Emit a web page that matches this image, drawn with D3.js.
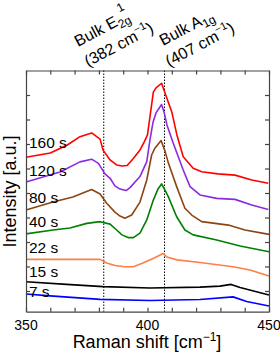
<!doctype html>
<html>
<head>
<meta charset="utf-8">
<style>
  body { margin:0; background:#fff; }
  svg { display:block; font-family:"Liberation Sans", Arial, sans-serif; }
  .frame line, .frame path { stroke:#444; stroke-width:1.2px; }
  .trace { fill:none; stroke-width:1.6px; stroke-linejoin:round; }
</style>
<script src="https://cdn.jsdelivr.net/npm/d3@7"></script>
</head>
<body>
<svg id="chart" width="280" height="353"></svg>
<script>
// data: [Raman shift, intensity (a.u., offset)]
var s160 = [[350,64.6],[360,66.3],[367,69.6],[372.2,73.0],[377,74.5],[380.5,72.0],[381.7,67.5],[384.6,63.5],[387.4,61.4],[389.5,61.0],[391.6,61.2],[394,63.9],[396.9,67.5],[398.6,70.8],[400,73.7],[402.4,91.2],[403.5,92.9],[405.8,94.8],[407.2,90.8],[410,83.1],[412.1,73.7],[414.7,64.8],[418.8,60.1],[422.3,58.7],[429,57.8],[436,57.3],[442.9,55.3],[449.7,54.0]]
var s120 = [[350,54.5],[357,56.5],[364,58.6],[372.2,62.7],[377,63.8],[379.8,62.1],[382.5,57.8],[384.6,56.0],[386.6,52.9],[388.7,51.6],[391.2,51.0],[392.8,52.2],[396.9,56.7],[399.7,62.8],[401,71.6],[402.3,79.0],[403.5,82.7],[405.8,86.1],[406.8,83.1],[408,77.8],[410.6,70.3],[414.7,59.4],[417.5,52.6],[421.6,49.2],[428.5,47.8],[436,47.4],[442.9,45.1],[449.7,43.3]]
var s80 = [[350,43.1],[361.1,46.3],[369.3,48.4],[377,51.4],[380.5,49.6],[383.2,45.8],[386.6,42.2],[388.7,40.6],[390.7,39.7],[393.5,41.0],[396.9,46.3],[399.7,55.3],[401.7,65.5],[403.1,68.4],[405.6,71.4],[407.2,67.1],[408.6,62.2],[412,52.6],[415.4,43.8],[418.2,41.0],[422.3,38.3],[427.8,37.6],[433.3,36.9],[440.1,34.9],[450,33.1]]
var s40 = [[350,33.3],[361.1,34.9],[368.1,35.7],[375,37.6],[380.5,38.3],[384.6,37.3],[387.3,34.9],[389.5,32.9],[392,31.8],[394.2,31.8],[396.9,33.6],[399.7,39.0],[402.4,47.1],[404.3,51.6],[405.8,53.7],[407.2,51.2],[408.6,48.4],[412,40.3],[415.4,34.9],[418.8,32.9],[428.5,30.8],[438.1,28.4],[450,26.0]]
var s22 = [[350,22.9],[364,22.9],[380.5,22.9],[383.2,21.4],[386.6,20.4],[390.7,19.9],[394.2,19.9],[398.1,21.4],[402.3,23.3],[404.4,24.3],[406.4,25.3],[408,23.9],[412.1,22.7],[421.6,21.6],[435.2,19.9],[442.2,18.6],[450,16.1]]
var s15 = [[350,13.8],[366.7,12.7],[381.7,11.8],[401,11.2],[421.6,11.6],[429.8,12.0],[434.4,12.7],[438.1,11.4],[450,8.4]]
var s7 = [[350,8.8],[359.9,8.0],[380.5,6.6],[401,6.1],[421.6,6.5],[435.2,7.6],[440.8,5.7],[450,3.9]]

var series = [s160, s120, s80, s40, s22, s15, s7]
var names = ["160 s","120 s","80 s","40 s","22 s","15 s","7 s"]
var colors = ["#ff0000","#8a2be2","#8b4513","#008000","#ff7f45","#000000","#0000ff"]
var labelY = [68.4, 56.9, 45.9, 36.1, 25.5, 15.7, 7.6]

var xTicks = [350, 400, 450]
var peaks = [382, 407]

var svg = d3.select("#chart")
var pLeft = 26, pRight = 269, pTop = 70.5, pBottom = 311.7

var x = d3.scaleLinear().domain([350,450]).range([pLeft,pRight])
var y = d3.scaleLinear().domain([1.55,100]).range([pBottom,pTop])

// dotted peak lines
svg.selectAll(".peak").data(peaks).enter().append("line")
   .attr("x1", d => x(d)).attr("x2", d => x(d))
   .attr("y1", pTop).attr("y2", pBottom)
   .attr("stroke","#000").attr("stroke-width",1).attr("stroke-dasharray","1.5,1.5")

// traces
var line = d3.line().x(d => x(d[0])).y(d => y(d[1]))
svg.selectAll(".trace").data(series).enter().append("path")
   .attr("class","trace")
   .attr("d", line)
   .attr("stroke", (d,i) => colors[i])

// frame with inward ticks
var minor = d3.range(350, 451, 10)
var yt = d3.range(10, 100, 10)
svg.append("g").attr("class","frame").attr("transform","translate(0,"+pBottom+")")
   .call(d3.axisBottom(x).tickValues(minor).tickSizeInner(-4).tickSizeOuter(0).tickFormat(""))
svg.append("g").attr("class","frame").attr("transform","translate(0,"+pTop+")")
   .call(d3.axisTop(x).tickValues(minor).tickSizeInner(-4).tickSizeOuter(0).tickFormat(""))
svg.append("g").attr("class","frame").attr("transform","translate("+pLeft+",0)")
   .call(d3.axisLeft(y).tickValues(yt).tickSizeInner(-4).tickSizeOuter(0).tickFormat(""))
svg.append("g").attr("class","frame").attr("transform","translate("+pRight+",0)")
   .call(d3.axisRight(y).tickValues(yt).tickSizeInner(-4).tickSizeOuter(0).tickFormat(""))

// x tick labels
svg.selectAll(".xl").data(xTicks).enter().append("text")
   .attr("x", d => x(d)).attr("y", 330)
   .attr("text-anchor","middle").attr("font-size","14px")
   .text(d => d)

// series labels
svg.selectAll(".sl").data(names).enter().append("text")
   .attr("x", x(351.2)).attr("y", (d,i) => y(labelY[i]))
   .attr("font-size","15.5px")
   .text(d => d)

// axis titles
var xt = svg.append("text").attr("x",147).attr("y",348)
   .attr("text-anchor","middle").attr("font-size","18px")
xt.append("tspan").text("Raman shift [cm")
xt.append("tspan").attr("dy",-7).attr("font-size","12px").text("\u22121")
xt.append("tspan").attr("dy",7).text("]")

svg.append("text").attr("transform","translate(16,191.5) rotate(-90)")
   .attr("text-anchor","middle").attr("font-size","18px")
   .text("Intensity [a.u.]")

// peak annotations
var ang = -28
var a1 = svg.append("text").attr("transform","translate(78,47) rotate("+ang+")").attr("font-size","16px")
a1.append("tspan").text("Bulk E")
a1.append("tspan").attr("dy",4).attr("font-size","12px").text("2g")
a1.append("tspan").attr("dx",-7).attr("dy",-15).attr("font-size","12px").text("1")
svg.append("text").attr("transform","translate(88,67) rotate("+ang+")").attr("font-size","16px")
   .call(t => { t.append("tspan").text("(382 cm")
                t.append("tspan").attr("dy",-7).attr("font-size","11px").text("\u22121")
                t.append("tspan").attr("dy",7).text(")") })

var a2 = svg.append("text").attr("transform","translate(163,46) rotate("+ang+")").attr("font-size","16px")
a2.append("tspan").text("Bulk A")
a2.append("tspan").attr("dy",4).attr("font-size","12px").text("1g")
svg.append("text").attr("transform","translate(169,67) rotate("+ang+")").attr("font-size","16px")
   .call(t => { t.append("tspan").text("(407 cm")
                t.append("tspan").attr("dy",-7).attr("font-size","11px").text("\u22121")
                t.append("tspan").attr("dy",7).text(")") })
</script>
</body>
</html>
